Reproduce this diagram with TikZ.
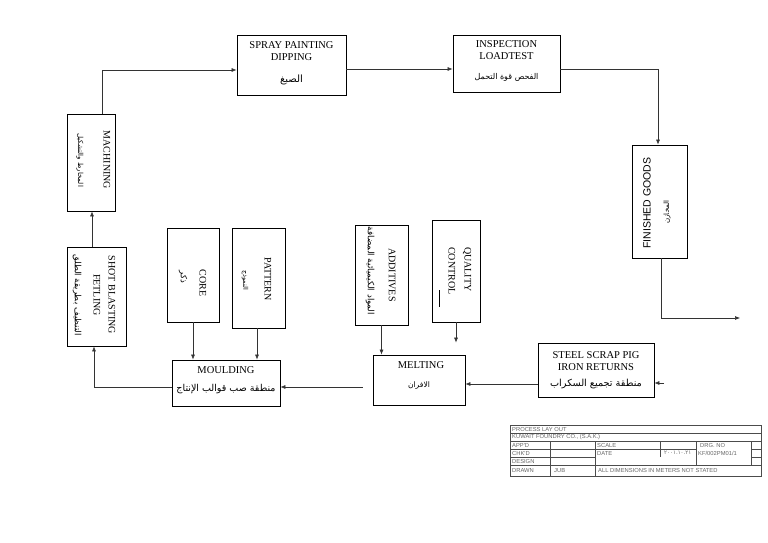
\documentclass[tikz,border=0pt]{standalone}
\usepackage{fontspec}
\setmainfont{Liberation Serif}
\newfontfamily\arabicfont[Script=Arabic]{DejaVu Sans}
\newfontfamily\sanslib{Liberation Sans}
\TeXXeTstate=1
\usetikzlibrary{arrows.meta}
\newcommand{\arb}[1]{{\arabicfont\beginR #1\endR}}
\newcommand{\afs}[1]{\arabicfont\fontsize{#1}{#1}\selectfont}
\begin{document}
\begin{tikzpicture}[x=1pt,y=-1pt,
  box/.style={draw, line width=0.8pt, inner sep=0pt},
  lbl/.style={font=\fontsize{10.5}{12}\selectfont, inner sep=0pt, align=center},
  rlbl/.style={font=\fontsize{10}{15}\selectfont, inner sep=0pt, align=center},
  arl/.style={font=\afs{7}, inner sep=0pt},
  arr/.style={-{Latex[length=5pt,width=4pt]}, line width=0.6pt, draw=black!80},
  tb/.style={draw=black!70, line width=0.4pt},
  tt/.style={font=\sanslib\fontsize{5.8}{6}\selectfont, text=black!60, inner sep=0pt, anchor=west}
]
\fill[white] (0,0) rectangle (768,543);
\useasboundingbox (0,0) rectangle (768,543);

% boxes
\node[box, minimum width=109pt, minimum height=60pt] (spray) at (291.5,65) {};
\node[box, minimum width=107pt, minimum height=57pt] (insp) at (506.5,63.5) {};
\node[box, minimum width=48pt, minimum height=97pt] (mach) at (91,162.5) {};
\node[box, minimum width=55pt, minimum height=113pt] (fin) at (659.5,201.5) {};
\node[box, minimum width=59pt, minimum height=99pt] (shot) at (96.5,296.5) {};
\node[box, minimum width=52pt, minimum height=94pt] (core) at (193,275) {};
\node[box, minimum width=53pt, minimum height=100pt] (pat) at (258.5,278) {};
\node[box, minimum width=53pt, minimum height=100pt] (add) at (381.5,275) {};
\node[box, minimum width=48pt, minimum height=102pt] (qc) at (456,271) {};
\node[box, minimum width=108pt, minimum height=46pt] (mould) at (226,383) {};
\node[box, minimum width=92pt, minimum height=50pt] (melt) at (419,380) {};
\node[box, minimum width=116pt, minimum height=54pt] (steel) at (596,370) {};

% texts
\node[lbl] (sprayt) at (291.5,51) {SPRAY PAINTING\\DIPPING};
\node[arl, font=\afs{10}] (spraya) at (291.5,80) {\arb{الصبغ}};
\node[lbl] (inspt) at (506.5,50.5) {INSPECTION\\LOADTEST};
\node[arl, font=\afs{8}] (inspa) at (506.5,77) {\arb{الفحص قوة التحمل}};
\node[rlbl, rotate=-90] (macht) at (107,160) {MACHINING};
\node[arl, rotate=-90] (macha) at (80,160) {\arb{المخارط والتشكيل}};
\node[font=\sanslib\fontsize{10.5}{12}\selectfont, inner sep=0pt, rotate=90] (fint) at (647,203) {FINISHED GOODS};
\node[arl, rotate=90] (fina) at (667,212) {\arb{المخازن}};
\node[rlbl, rotate=-90] (shott) at (104.5,295) {SHOT BLASTING\\FETLING};
\node[arl, font=\afs{8.6}, rotate=-90] (shota) at (77,295) {\arb{التنظيف بطريقة الطلق}};
\node[rlbl, rotate=-90] (coret) at (203,283) {CORE};
\node[arl, font=\afs{8.5}, rotate=-90] (corea) at (183,277) {\arb{ذكر}};
\node[rlbl, rotate=-90] (patt) at (268,279) {PATTERN};
\node[arl, font=\afs{6.5}, rotate=-90] (pata) at (245,280) {\arb{النموذج}};
\node[rlbl, rotate=-90] (addt) at (392,275) {ADDITIVES};
\node[arl, font=\afs{8.7}, rotate=-90] (adda) at (370,271) {\arb{المواد الكيميائية المضافة}};
\node[rlbl, rotate=-90, align=left, anchor=west, font=\fontsize{10}{16}\selectfont] (qct) at (460,247) {QUALITY\\CONTROL};
\draw[line width=0.5pt] (439,290) -- (439,307);
\node[lbl] (mouldt) at (226,370) {MOULDING};
\node[arl, font=\afs{9.5}] (moulda) at (226,389) {\arb{منطقة صب قوالب الإنتاج}};
\node[lbl] (meltt) at (421,365) {MELTING};
\node[arl, font=\afs{7.6}] (melta) at (419,386) {\arb{الافران}};
\node[lbl] (steelt) at (596,361) {STEEL SCRAP PIG\\IRON RETURNS};
\node[arl, font=\afs{9.7}] (steela) at (596,384) {\arb{منطقة تجميع السكراب}};

% connectors
\coordinate (outend) at (740,318);
\coordinate (scrapin) at (664,383);
\draw[arr] (102,0 |- mach.north) |- (spray.west |- 0,70);
\draw[arr] (spray.east |- 0,69) -- (insp.west |- 0,69);
\draw[arr] (insp.east |- 0,69) -| (658,0 |- fin.north);
\draw[arr] (661,0 |- fin.south) |- (outend);
\draw[arr] (scrapin) -- (steel.east |- scrapin);
\draw[arr] (steel.west |- 0,384) -- (melt.east |- 0,384);
\draw[arr, shorten <=10pt] (melt.west |- 0,387) -- (mould.east |- 0,387);
\draw[arr] (mould.west |- 0,387) -| (94,0 |- shot.south);
\draw[arr] (92,0 |- shot.north) -- (92,0 |- mach.south);
\draw[arr] (core.south) -- (core.south |- mould.north);
\draw[arr] (257,0 |- pat.south) -- (257,0 |- mould.north);
\draw[arr] (add.south) -- (add.south |- melt.north);
\draw[arr, shorten >=12pt] (qc.south) -- (qc.south |- melt.north);

% title block
\draw[tb] (510,425) rectangle (761,476);
\draw[tb] (510,433) -- (761,433);
\draw[tb] (510,441) -- (761,441);
\draw[tb] (510,449) -- (696,449) (751,449) -- (761,449);
\draw[tb] (510,457) -- (595,457) (751,457) -- (761,457);
\draw[tb] (510,465) -- (761,465);
\draw[tb] (550,441) -- (550,476);
\draw[tb] (595,441) -- (595,476);
\draw[tb] (660,441) -- (660,457);
\draw[tb] (696,441) -- (696,465);
\draw[tb] (751,441) -- (751,465);
\node[tt] (t1) at (512,429) {PROCESS LAY OUT};
\node[tt] (t2) at (512,437) {KUWAIT FOUNDRY CO., (S.A.K.)};
\node[tt] (t3) at (512,445) {APP'D};
\node[tt] (t4) at (597,445) {SCALE};
\node[tt] (t5) at (700,445) {DRG. NO};
\node[tt] (t6) at (512,453) {CHK'D};
\node[tt] (t7) at (597,453) {DATE};
\node[tt, font=\arabicfont\fontsize{5.5}{6}\selectfont] (t8) at (664,453) {٢٠٠١.١٠.٢١};
\node[tt] (t9) at (698,453) {KF/002PM01/1};
\node[tt] (t10) at (512,461) {DESIGN};
\node[tt] (t11) at (512,470.5) {DRAWN};
\node[tt] (t12) at (554,470.5) {JUB};
\node[tt] (t13) at (598,470.5) {ALL DIMENSIONS IN METERS NOT STATED};
\end{tikzpicture}
\end{document}
